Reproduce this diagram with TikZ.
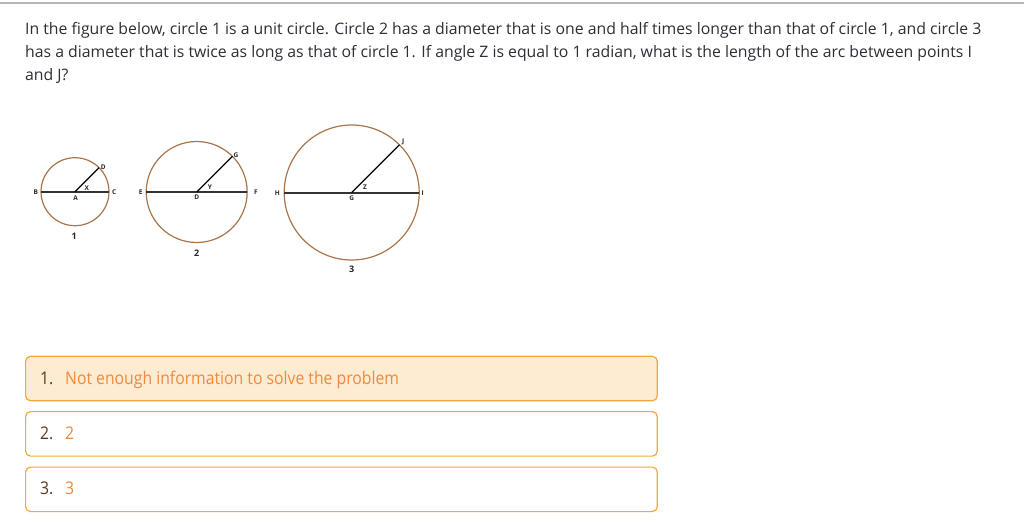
\documentclass[tikz,border=0pt]{standalone}
\usepackage{fontspec}
\setmainfont{Open Sans}
\newfontfamily\optfont[FakeStretch=0.9]{Open Sans}
\definecolor{qcol}{HTML}{2E2E38}
\definecolor{circcol}{HTML}{A8764A}
\definecolor{boxcol}{HTML}{F2A93B}
\definecolor{boxfill}{HTML}{FDEBD2}
\definecolor{numcol}{HTML}{5B3A1E}
\definecolor{anscol}{HTML}{EF8A3C}
\begin{document}
\begin{tikzpicture}[x=1pt,y=-1pt,
  qtext/.style={anchor=base west, inner sep=0, text=qcol, font=\fontsize{15.8}{18}\selectfont},
  circ/.style={circle, draw=circcol, line width=1.2pt, inner sep=0, outer sep=0},
  diam/.style={draw=black!80, line width=2pt},
  rad/.style={draw=black, line width=1.3pt},
  lbl/.style={inner sep=0, text=black!85, font=\fontsize{6.5}{7}\selectfont\bfseries},
  cnum/.style={inner sep=0, text=black!85, font=\fontsize{9}{10}\selectfont\bfseries},
  optbox/.style={draw=boxcol, line width=1.2pt, rounded corners=5pt, anchor=north west, minimum width=631.7pt, minimum height=44.5pt, inner sep=0},
  onum/.style={anchor=base west, inner sep=0, text=numcol, font=\optfont\fontsize{17.5}{19}\selectfont},
  otext/.style={anchor=base west, inner sep=0, text=anscol, font=\optfont\fontsize{17.5}{19}\selectfont}
]
\useasboundingbox (0,0) rectangle (1024,528);
\fill[white] (0,0) rectangle (1024,528);
\draw[black!28, line width=1.2pt] (0,3) -- (1024,3);

% question
\node[qtext] (q1) at (25,34.3) {In the figure below, circle 1 is a unit circle. Circle 2 has a diameter that is one and half times longer than that of circle 1, and circle 3};
\node[qtext] (q2) at (25,57.3) {has a diameter that is twice as long as that of circle 1. If angle Z is equal to 1 radian, what is the length of the arc between points I};
\node[qtext] (q3) at (25,80.3) {and J?};

% circle 1
\node[circ, minimum size=68pt] (c1) at (75,191.7) {};
\draw[diam] (c1.west) -- (c1.east);
\draw[rad] (c1.center) -- (c1.45);
\node[lbl] (lB) at (35.7,191.7) {B};
\node[lbl] (lC) at (114.3,191.7) {C};
\node[lbl] (lA) at (75.7,197.7) {A};
\node[lbl] (lX) at (86.7,188.3) {X};
\node[lbl] (lD) at (103.3,166.7) {D};
\node[cnum] (n1) at (74.3,236.7) {1};

% circle 2
\node[circ, minimum size=101pt] (c2) at (196.7,192) {};
\draw[diam] (c2.west) -- (c2.east);
\draw[rad] (c2.center) -- (c2.45);
\node[lbl] (lE) at (140.7,191.7) {E};
\node[lbl] (lF) at (256,191.7) {F};
\node[lbl] (lD2) at (196.7,197.3) {D};
\node[lbl] (lY) at (210,186.7) {Y};
\node[lbl] (lG) at (236,155) {G};
\node[cnum] (n2) at (196.7,253.3) {2};

% circle 3
\node[circ, minimum size=135pt] (c3) at (351.7,192.5) {};
\draw[diam] (c3.west) -- (c3.east);
\draw[rad] (c3.center) -- (c3.45);
\node[lbl] (lH) at (277.3,192.7) {H};
\node[lbl] (lI) at (422.7,192.7) {I};
\node[lbl] (lG3) at (351.7,198.3) {G};
\node[lbl] (lZ) at (365,187.3) {Z};
\node[lbl] (lJ) at (403.3,142.3) {J};
\node[cnum] (n3) at (351.7,269.3) {3};

% options
\node[optbox, fill=boxfill] (o1) at (25,355.7) {};
\node[optbox] (o2) at (25,411) {};
\node[optbox] (o3) at (25,466.5) {};
\node[onum] (o1n) at (40,384) {1.};
\node[otext] (o1t) at (65,384) {Not enough information to solve the problem};
\node[onum] (o2n) at (40,439) {2.};
\node[otext] (o2t) at (65,439) {2};
\node[onum] (o3n) at (40,494.5) {3.};
\node[otext] (o3t) at (65,494.5) {3};
\end{tikzpicture}
\end{document}
